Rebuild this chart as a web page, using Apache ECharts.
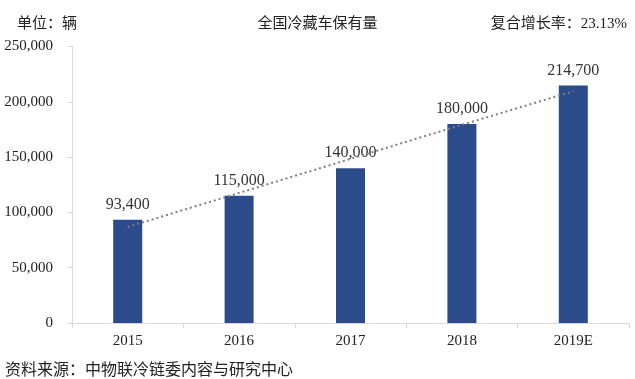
<!DOCTYPE html>
<html><head><meta charset="utf-8">
<script src="https://cdn.jsdelivr.net/npm/echarts@6/dist/echarts.min.js"></script>
<style>html,body{margin:0;padding:0;background:#fff}#c{width:635px;height:379px}</style>
</head><body><div id="c"></div>
<script>
var categories = ['2015','2016','2017','2018','2019E'];
var values = [93400, 115000, 140000, 180000, 214700];
var trendValues = [86800, 117600, 148400, 179200, 209500];
var yTicks = [0, 50000, 100000, 150000, 200000, 250000];

var serif = '"Liberation Serif", "Noto Sans CJK SC", serif';
var fmt = function(v){ return String(v).replace(/\B(?=(\d{3})+(?!\d))/g, ','); };
var chart = echarts.init(document.getElementById('c'), null, {renderer:'canvas'});
chart.setOption({
  animation: false,
  backgroundColor: '#fff',
  title: [
    {text: '全国冷藏车保有量', left: 'center', top: 12, textStyle:{fontFamily: serif, fontSize: 15, fontWeight: 'normal', color:'#222'}},
    {text: '单位：辆', left: 12, top: 12, textStyle:{fontFamily: serif, fontSize: 15, fontWeight: 'normal', color:'#222'}},
    {text: '复合增长率：23.13%', right: 3, top: 12, textStyle:{fontFamily: serif, fontSize: 15, fontWeight: 'normal', color:'#222'}},
    {text: '资料来源：中物联冷链委内容与研究中心', left: 0, top: 358, textStyle:{fontFamily: serif, fontSize: 16, fontWeight: 'normal', color:'#222'}}
  ],
  grid: {left: 72, right: 6, top: 46.5, bottom: 56, containLabel: false},
  xAxis: {
    type: 'category', data: categories, boundaryGap: true,
    axisLine: {lineStyle:{color:'#d9d9d9', width:1}},
    axisTick: {show:true, length:5, lineStyle:{color:'#d9d9d9'}},
    axisLabel: {fontFamily: serif, fontSize: 15, color:'#222', margin: 11}
  },
  yAxis: {
    type: 'value', min: yTicks[0], max: yTicks[yTicks.length-1], interval: 50000,
    axisLine: {show:true, lineStyle:{color:'#d9d9d9', width:1}},
    axisTick: {show:true, length:5, lineStyle:{color:'#d9d9d9'}},
    splitLine: {show:false},
    axisLabel: {fontFamily: serif, fontSize: 15, color:'#222', margin: 19, formatter: fmt}
  },
  series: [
    {type:'bar', data: values, barWidth: 29, itemStyle:{color:'#2B4B8B'},
     label:{show:true, position:'top', distance:7, fontFamily: serif, fontSize:16, color:'#333', formatter: function(p){return fmt(p.value);}}},
    {type:'line', data: trendValues, symbol:'none', z: 5,
     lineStyle:{color:'#7f7f7f', width:2, type:[2,3]}}
  ]
});
</script></body></html>
